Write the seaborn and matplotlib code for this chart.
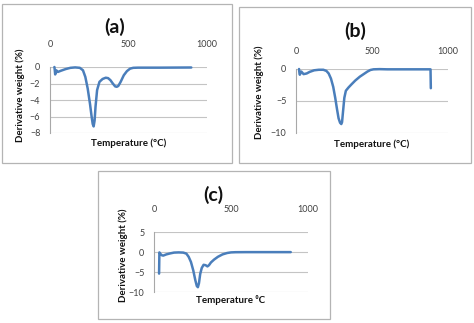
import matplotlib
matplotlib.use("Agg")
import matplotlib.pyplot as plt
import seaborn as sns
import pandas as pd
from matplotlib.patches import Rectangle

sns.set_style("white")
plt.rcParams['font.family'] = ['Lato', 'DejaVu Sans']

# ---- data ----
temp_a = [28, 30, 33, 40, 50, 70, 100, 130, 160, 190, 210, 225, 240, 255, 265, 272, 278, 284, 290, 300, 315, 335,
          355, 370, 385, 400, 415, 425, 435, 450, 470, 490, 510, 530, 560, 600, 700, 800, 900]
dw_a = [0, -0.3, -0.9, -0.4, -0.6, -0.45, -0.25, -0.1, -0.05, -0.1, -0.4, -1.2, -2.6, -4.5, -6.0, -6.9, -7.2, -6.5,
        -4.8, -2.8, -1.8, -1.45, -1.3, -1.35, -1.6, -2.0, -2.35, -2.4, -2.3, -1.8, -1.0, -0.5, -0.2, -0.1, -0.08,
        -0.08, -0.08, -0.07, -0.06]

temp_b = [20, 22, 25, 35, 50, 70, 90, 120, 150, 180, 200, 215, 230, 245, 258, 270, 280, 290, 298, 303, 310, 318,
          328, 345, 365, 390, 420, 445, 470, 490, 510, 550, 600, 700, 800, 870, 885, 886, 887]
dw_b = [0, -0.5, -0.9, -0.4, -0.8, -0.7, -0.45, -0.2, -0.12, -0.12, -0.3, -0.7, -1.5, -2.8, -4.5, -6.3, -7.7, -8.4,
        -8.6, -8.3, -6.5, -4.5, -3.4, -2.9, -2.4, -1.8, -1.2, -0.8, -0.4, -0.15, -0.05, -0.02, -0.05, -0.05, -0.05,
        -0.05, -0.05, -1.5, -3.0]

temp_c = [33, 35, 40, 50, 60, 80, 105, 130, 160, 190, 210, 225, 240, 255, 268, 278, 285, 292, 300, 310, 322, 335,
          347, 357, 370, 390, 415, 445, 475, 500, 530, 600, 700, 800, 888]
dw_c = [-5.4, -0.1, -0.4, -0.8, -0.9, -0.6, -0.35, -0.15, -0.1, -0.15, -0.4, -1.2, -2.5, -4.6, -7.0, -8.5, -8.8,
        -7.8, -5.5, -4.0, -3.2, -3.3, -3.6, -3.3, -2.6, -1.9, -1.2, -0.6, -0.25, -0.1, -0.05, -0.03, -0.03, -0.03,
        -0.03]

titles = ["(a)", "(b)", "(c)"]
xlabels = ["Temperature (\u00b0C)", "Temperature (\u00b0C)", "Temperature \u2070C"]
ylabel = "Derivative weight (%)"
x_ticks = [0, 500, 1000]
y_ticks_a = [0, -2, -4, -6, -8]
y_ticks_b = [0, -5, -10]
y_ticks_c = [5, 0, -5, -10]

W, H = 474, 323
fig = plt.figure(figsize=(W / 100, H / 100), dpi=100)

def fx(x):
    return x / W

def fy(y):
    return 1 - y / H

# panel boxes (pixel coords: left, top, right, bottom)
boxes = [(2, 4, 232, 163), (239, 7, 471, 163), (98, 171, 330, 319)]
for (l, t, r, b) in boxes:
    fig.patches.append(Rectangle((fx(l), fy(b)), fx(r - l), (b - t) / H, transform=fig.transFigure,
                                 fill=False, edgecolor='#b4b4b4', linewidth=0.9))

# axes pixel geometry: left, top, right, bottom
geoms = [(50, 67, 207, 133), (296, 69, 448, 133), (154, 232, 308, 292)]
datasets = [(temp_a, dw_a, y_ticks_a, (-8, 0), 13),
            (temp_b, dw_b, y_ticks_b, (-10, 0), 9),
            (temp_c, dw_c, y_ticks_c, (-10, 5), 13)]
title_pos = [(115, 27), (355, 31), (213, 195)]
xlabel_pos = [(129, 143), (372, 144), (231, 300)]
ylabel_pos = [(20, 95), (259, 92), (123, 255)]

line_color = '#4a7ebb'
for i, ((l, t, r, b), (xs, ys, yt, ylim, xpad)) in enumerate(zip(geoms, datasets)):
    ax = fig.add_axes([fx(l), fy(b), fx(r - l), (b - t) / H])
    df = pd.DataFrame({"Temperature": xs, "Derivative": ys})
    sns.lineplot(data=df, x="Temperature", y="Derivative", ax=ax, color=line_color, linewidth=1.8,
                 sort=False, estimator=None, clip_on=False)
    ax.set_xlim(0, 1000)
    ax.set_ylim(*ylim)
    ax.set_xticks(x_ticks)
    ax.set_yticks(yt)
    ax.set_xlabel("")
    ax.set_ylabel("")
    ax.xaxis.tick_top()
    ax.tick_params(axis='x', length=0, pad=xpad, labelsize=6.5, labelcolor='#404040')
    ax.tick_params(axis='y', length=0, pad=7, labelsize=6.5, labelcolor='#404040')
    ax.yaxis.grid(True, color='#c4c4c4', linewidth=0.8)
    ax.xaxis.grid(False)
    for s in ['top', 'right', 'bottom']:
        ax.spines[s].set_visible(False)
    ax.spines['left'].set_color('#a8a8a8')
    ax.spines['left'].set_linewidth(0.8)
    ax.set_facecolor('none')
    ax.set_axisbelow(True)

    fig.text(fx(title_pos[i][0]), fy(title_pos[i][1]), titles[i], ha='center', va='center',
             fontsize=14, fontweight='bold', color='#111111')
    fig.text(fx(xlabel_pos[i][0]), fy(xlabel_pos[i][1]), xlabels[i], ha='center', va='center',
             fontsize=7, fontweight='bold', color='#111111')
    fig.text(fx(ylabel_pos[i][0]), fy(ylabel_pos[i][1]), ylabel, ha='center', va='center',
             fontsize=7, fontweight='bold', color='#111111', rotation=90)

fig.savefig("out.png", dpi=100, facecolor='white')
